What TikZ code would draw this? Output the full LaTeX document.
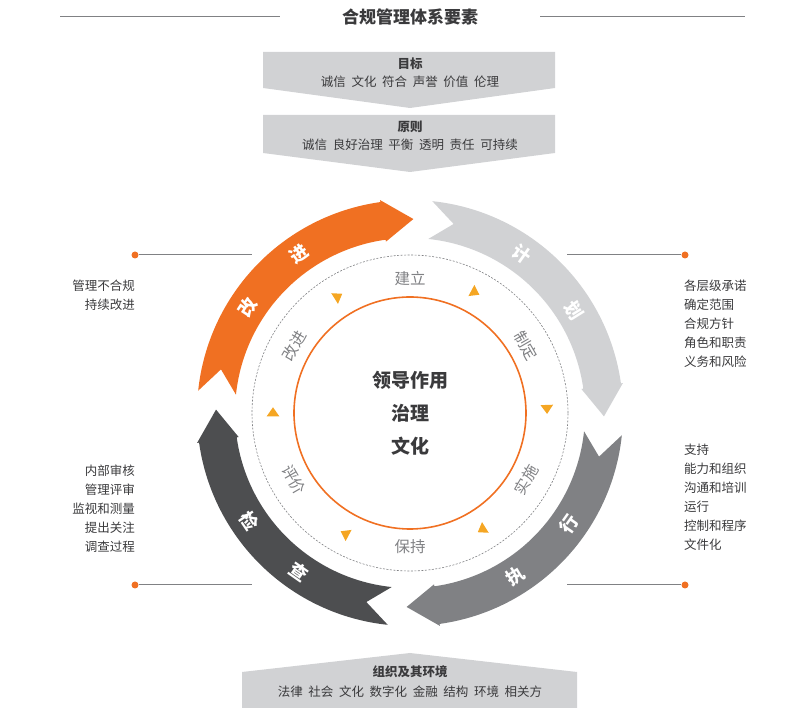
\documentclass[tikz,border=0pt]{standalone}
\usepackage{fontspec}
\setmainfont{Noto Sans CJK SC}
\usetikzlibrary{shapes.geometric}
\definecolor{org}{HTML}{F07022}
\definecolor{lg}{HTML}{D1D2D4}
\definecolor{mg}{HTML}{808184}
\definecolor{dg}{HTML}{4D4E50}
\definecolor{txt}{HTML}{3A3A3C}
\definecolor{tri}{HTML}{F5A623}
\tikzset{
 body/.style={font=\fontsize{12.5}{19}\selectfont, text=txt},
 ring/.style={white, font=\fontsize{18}{18}\selectfont\bfseries},
 inner/.style={font=\fontsize{15.5}{15.5}\selectfont, text=mg},
 dotend/.style={circle, fill=org, inner sep=0pt, minimum size=7pt},
 trimark/.style={isosceles triangle, fill=tri, inner sep=0pt, minimum height=9pt, minimum width=11pt, isosceles triangle apex angle=70},
 banner/.style={fill=lg},
}
\newcommand{\gp}{\hspace{0.45em}}
\begin{document}
\begin{tikzpicture}[x=1pt,y=1pt]
\useasboundingbox (0,0) rectangle (796,712);
\coordinate (c) at (410,299);
% title
\node[font=\fontsize{17}{17}\selectfont\bfseries, text=txt] (title) at (410,695) {合规管理体系要素};
\draw[mg, line width=1pt] (60,695) -- (280,695);
\draw[mg, line width=1pt] (540,695) -- (745,695);
% banners
\fill[banner] (263,660) -- (555,660) -- (555,624) -- (410,604) -- (263,624) -- cycle;
\node[font=\fontsize{12.5}{12.5}\selectfont\bfseries, text=txt] (goal) at (410,648) {目标};
\node[body] (goalt) at (410,630) {诚信\gp 文化\gp 符合\gp 声誉\gp 价值\gp 伦理};
\fill[banner] (263,597) -- (555,597) -- (555,559) -- (410,540) -- (263,559) -- cycle;
\node[font=\fontsize{12.5}{12.5}\selectfont\bfseries, text=txt] (prin) at (410,585) {原则};
\node[body] (print) at (410,567) {诚信\gp 良好治理\gp 平衡\gp 透明\gp 责任\gp 可持续};
\fill[banner] (242,4) -- (577,4) -- (577,40) -- (410,59) -- (242,40) -- cycle;
\node[font=\fontsize{12.5}{12.5}\selectfont\bfseries, text=txt] (org) at (410,40) {组织及其环境};
\node[body] (orgt) at (410,20) {法律\gp 社会\gp 文化\gp 数字化\gp 金融\gp 结构\gp 环境\gp 相关方};
% ring arrows
\foreach \a/\col in {174/org, 84/lg, -6/mg, -96/dg}{
 \pgfmathsetmacro{\b}{\a-76}
 \pgfmathsetmacro{\t}{\a-85}
 \pgfmathsetmacro{\n}{\a-7}
 \fill[\col] ([shift={(\a:213)}]c) arc[start angle=\a, end angle=\b, radius=213]
   -- ([shift={(\b:215)}]c) -- ([shift={(\t:194)}]c) -- ([shift={(\b:173)}]c)
   -- ([shift={(\b:175)}]c) arc[start angle=\b, end angle=\a, radius=175]
   -- ([shift={(\n:194)}]c) -- cycle;
}
% ring labels
\foreach \ang/\ch in {147/改, 125/进, 55/计, 32/划}{
 \node[ring, rotate=\ang-90] at ([shift={(\ang:194)}]c) {\ch};
}
\foreach \ang/\ch in {-35/行, -57/执, -125/查, -146/检}{
 \node[ring, rotate=\ang+90] at ([shift={(\ang:194)}]c) {\ch};
}
% dashed and inner circle
\draw[mg, line width=0.6pt, dash pattern=on 2pt off 1.5pt] (c) circle[radius=158];
\draw[org, line width=1.6pt] (c) circle[radius=116];
\node[align=center, font=\fontsize{19}{33}\selectfont\bfseries, text=txt] (core) at (c) {领导作用\\治理\\文化};
% inner labels
\foreach \ang/\tx in {90/建立, 30/制定, 150/改进}{
 \node[inner, inner sep=0pt, rotate=\ang-90] at ([shift={(\ang:134)}]c) {\tx};
}
\foreach \ang/\tx in {-90/保持, -30/实施, -150/评价}{
 \node[inner, inner sep=0pt, rotate=\ang+90] at ([shift={(\ang:134)}]c) {\tx};
}
\foreach \ang in {122,62,2,-58,-118,180}{
 \node[trimark, rotate=\ang-90] at ([shift={(\ang:137)}]c) {};
}
% side lines
\node[dotend] (d1) at (135,457) {};
\node[dotend] (d2) at (685,457) {};
\node[dotend] (d3) at (135,127) {};
\node[dotend] (d4) at (685,127) {};
\coordinate (e1) at (252,457); \coordinate (e2) at (567,457);
\coordinate (e3) at (252,127); \coordinate (e4) at (567,127);
\draw[mg, line width=1pt] (d1) -- (e1);
\draw[mg, line width=1pt] (d2) -- (e2);
\draw[mg, line width=1pt] (d3) -- (e3);
\draw[mg, line width=1pt] (d4) -- (e4);
% side texts
\node[body, align=right, anchor=north east, inner sep=0pt] (t1) at (135,432) {管理不合规\\持续改进};
\node[body, align=left, anchor=north west, inner sep=0pt] (t2) at (684,432) {各层级承诺\\确定范围\\合规方针\\角色和职责\\义务和风险};
\node[body, align=right, anchor=north east, inner sep=0pt] (t3) at (135,247) {内部审核\\管理评审\\监视和测量\\提出关注\\调查过程};
\node[body, align=left, anchor=north west, inner sep=0pt] (t4) at (684,268) {支持\\能力和组织\\沟通和培训\\运行\\控制和程序\\文件化};
\end{tikzpicture}
\end{document}
